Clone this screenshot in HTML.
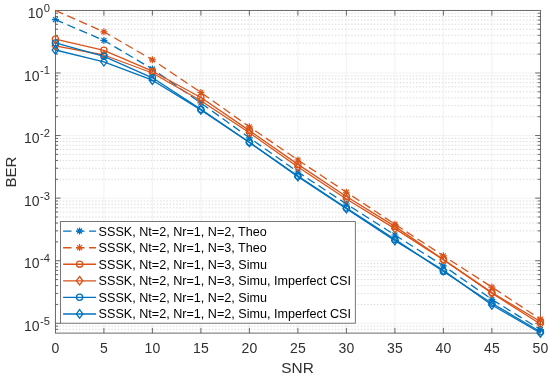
<!DOCTYPE html>
<html lang="en"><head><meta charset="utf-8"><title>BER vs SNR</title>
<style>html,body{margin:0;padding:0;background:#fff}body{width:550px;height:376px;overflow:hidden}</style>
</head><body>
<svg width="550" height="376" viewBox="0 0 550 376" style="display:block">
<rect width="550" height="376" fill="#fff"/>
<g stroke="#d0d0d0" stroke-width="0.8" stroke-dasharray="1.4 1.84" stroke-dashoffset="2.32" fill="none">
<path d="M55.4 54.14H540.4"/>
<path d="M55.4 43.12H540.4"/>
<path d="M55.4 35.30H540.4"/>
<path d="M55.4 29.24H540.4"/>
<path d="M55.4 24.28H540.4"/>
<path d="M55.4 20.09H540.4"/>
<path d="M55.4 16.46H540.4"/>
<path d="M55.4 13.26H540.4"/>
<path d="M55.4 116.72H540.4"/>
<path d="M55.4 105.70H540.4"/>
<path d="M55.4 97.88H540.4"/>
<path d="M55.4 91.82H540.4"/>
<path d="M55.4 86.86H540.4"/>
<path d="M55.4 82.67H540.4"/>
<path d="M55.4 79.04H540.4"/>
<path d="M55.4 75.84H540.4"/>
<path d="M55.4 179.30H540.4"/>
<path d="M55.4 168.28H540.4"/>
<path d="M55.4 160.46H540.4"/>
<path d="M55.4 154.40H540.4"/>
<path d="M55.4 149.44H540.4"/>
<path d="M55.4 145.25H540.4"/>
<path d="M55.4 141.62H540.4"/>
<path d="M55.4 138.42H540.4"/>
<path d="M55.4 241.88H540.4"/>
<path d="M55.4 230.86H540.4"/>
<path d="M55.4 223.04H540.4"/>
<path d="M55.4 216.98H540.4"/>
<path d="M55.4 212.02H540.4"/>
<path d="M55.4 207.83H540.4"/>
<path d="M55.4 204.20H540.4"/>
<path d="M55.4 201.00H540.4"/>
<path d="M55.4 304.46H540.4"/>
<path d="M55.4 293.44H540.4"/>
<path d="M55.4 285.62H540.4"/>
<path d="M55.4 279.56H540.4"/>
<path d="M55.4 274.60H540.4"/>
<path d="M55.4 270.41H540.4"/>
<path d="M55.4 266.78H540.4"/>
<path d="M55.4 263.58H540.4"/>
<path d="M55.4 329.36H540.4"/>
<path d="M55.4 326.16H540.4"/>
</g>
<g stroke="#efefef" stroke-width="0.8" fill="none">
<path d="M103.9 10.4V333.1"/>
<path d="M152.4 10.4V333.1"/>
<path d="M200.9 10.4V333.1"/>
<path d="M249.4 10.4V333.1"/>
<path d="M297.9 10.4V333.1"/>
<path d="M346.4 10.4V333.1"/>
<path d="M394.9 10.4V333.1"/>
<path d="M443.4 10.4V333.1"/>
<path d="M491.9 10.4V333.1"/>
<path d="M55.4 72.98H540.4"/>
<path d="M55.4 135.56H540.4"/>
<path d="M55.4 198.14H540.4"/>
<path d="M55.4 260.72H540.4"/>
<path d="M55.4 323.30H540.4"/>
</g>
<g stroke="#505050" stroke-width="0.85" fill="none">
<rect x="55.4" y="10.4" width="485.0" height="322.7"/>
<path d="M103.9 333.1v-5.2M103.9 10.4v5.2M152.4 333.1v-5.2M152.4 10.4v5.2M200.9 333.1v-5.2M200.9 10.4v5.2M249.4 333.1v-5.2M249.4 10.4v5.2M297.9 333.1v-5.2M297.9 10.4v5.2M346.4 333.1v-5.2M346.4 10.4v5.2M394.9 333.1v-5.2M394.9 10.4v5.2M443.4 333.1v-5.2M443.4 10.4v5.2M491.9 333.1v-5.2M491.9 10.4v5.2M55.4 54.14h2.7M540.4 54.14h-2.7M55.4 43.12h2.7M540.4 43.12h-2.7M55.4 35.30h2.7M540.4 35.30h-2.7M55.4 29.24h2.7M540.4 29.24h-2.7M55.4 24.28h2.7M540.4 24.28h-2.7M55.4 20.09h2.7M540.4 20.09h-2.7M55.4 16.46h2.7M540.4 16.46h-2.7M55.4 13.26h2.7M540.4 13.26h-2.7M55.4 72.98h5.2M540.4 72.98h-5.2M55.4 116.72h2.7M540.4 116.72h-2.7M55.4 105.70h2.7M540.4 105.70h-2.7M55.4 97.88h2.7M540.4 97.88h-2.7M55.4 91.82h2.7M540.4 91.82h-2.7M55.4 86.86h2.7M540.4 86.86h-2.7M55.4 82.67h2.7M540.4 82.67h-2.7M55.4 79.04h2.7M540.4 79.04h-2.7M55.4 75.84h2.7M540.4 75.84h-2.7M55.4 135.56h5.2M540.4 135.56h-5.2M55.4 179.30h2.7M540.4 179.30h-2.7M55.4 168.28h2.7M540.4 168.28h-2.7M55.4 160.46h2.7M540.4 160.46h-2.7M55.4 154.40h2.7M540.4 154.40h-2.7M55.4 149.44h2.7M540.4 149.44h-2.7M55.4 145.25h2.7M540.4 145.25h-2.7M55.4 141.62h2.7M540.4 141.62h-2.7M55.4 138.42h2.7M540.4 138.42h-2.7M55.4 198.14h5.2M540.4 198.14h-5.2M55.4 241.88h2.7M540.4 241.88h-2.7M55.4 230.86h2.7M540.4 230.86h-2.7M55.4 223.04h2.7M540.4 223.04h-2.7M55.4 216.98h2.7M540.4 216.98h-2.7M55.4 212.02h2.7M540.4 212.02h-2.7M55.4 207.83h2.7M540.4 207.83h-2.7M55.4 204.20h2.7M540.4 204.20h-2.7M55.4 201.00h2.7M540.4 201.00h-2.7M55.4 260.72h5.2M540.4 260.72h-5.2M55.4 304.46h2.7M540.4 304.46h-2.7M55.4 293.44h2.7M540.4 293.44h-2.7M55.4 285.62h2.7M540.4 285.62h-2.7M55.4 279.56h2.7M540.4 279.56h-2.7M55.4 274.60h2.7M540.4 274.60h-2.7M55.4 270.41h2.7M540.4 270.41h-2.7M55.4 266.78h2.7M540.4 266.78h-2.7M55.4 263.58h2.7M540.4 263.58h-2.7M55.4 323.30h5.2M540.4 323.30h-5.2M55.4 329.36h2.7M540.4 329.36h-2.7M55.4 326.16h2.7M540.4 326.16h-2.7"/>
</g>
<polyline points="55.40,19.60 103.90,40.40 152.40,69.00 200.90,103.00 249.40,137.80 297.90,172.00 346.40,204.00 394.90,235.00 443.40,265.80 491.90,299.40 540.40,329.60" stroke="#0072BD" stroke-width="1.3" fill="none" stroke-dasharray="8.4 4.6" stroke-dashoffset="0" stroke-linejoin="round"/>
<path d="M51.90 19.60H58.90M55.40 16.10V23.10M52.93 17.13L57.87 22.07M52.93 22.07L57.87 17.13" stroke="#0072BD" stroke-width="1.15" fill="none"/>
<path d="M100.40 40.40H107.40M103.90 36.90V43.90M101.43 37.93L106.37 42.87M101.43 42.87L106.37 37.93" stroke="#0072BD" stroke-width="1.15" fill="none"/>
<path d="M148.90 69.00H155.90M152.40 65.50V72.50M149.93 66.53L154.87 71.47M149.93 71.47L154.87 66.53" stroke="#0072BD" stroke-width="1.15" fill="none"/>
<path d="M197.40 103.00H204.40M200.90 99.50V106.50M198.43 100.53L203.37 105.47M198.43 105.47L203.37 100.53" stroke="#0072BD" stroke-width="1.15" fill="none"/>
<path d="M245.90 137.80H252.90M249.40 134.30V141.30M246.93 135.33L251.87 140.27M246.93 140.27L251.87 135.33" stroke="#0072BD" stroke-width="1.15" fill="none"/>
<path d="M294.40 172.00H301.40M297.90 168.50V175.50M295.43 169.53L300.37 174.47M295.43 174.47L300.37 169.53" stroke="#0072BD" stroke-width="1.15" fill="none"/>
<path d="M342.90 204.00H349.90M346.40 200.50V207.50M343.93 201.53L348.87 206.47M343.93 206.47L348.87 201.53" stroke="#0072BD" stroke-width="1.15" fill="none"/>
<path d="M391.40 235.00H398.40M394.90 231.50V238.50M392.43 232.53L397.37 237.47M392.43 237.47L397.37 232.53" stroke="#0072BD" stroke-width="1.15" fill="none"/>
<path d="M439.90 265.80H446.90M443.40 262.30V269.30M440.93 263.33L445.87 268.27M440.93 268.27L445.87 263.33" stroke="#0072BD" stroke-width="1.15" fill="none"/>
<path d="M488.40 299.40H495.40M491.90 295.90V302.90M489.43 296.93L494.37 301.87M489.43 301.87L494.37 296.93" stroke="#0072BD" stroke-width="1.15" fill="none"/>
<path d="M536.90 329.60H543.90M540.40 326.10V333.10M537.93 327.13L542.87 332.07M537.93 332.07L542.87 327.13" stroke="#0072BD" stroke-width="1.15" fill="none"/>
<polyline points="55.40,10.40 103.90,31.80 152.40,59.80 200.90,92.40 249.40,126.80 297.90,160.00 346.40,192.20 394.90,224.20 443.40,255.80 491.90,287.10 540.40,319.20" stroke="#D95319" stroke-width="1.3" fill="none" stroke-dasharray="8.4 4.6" stroke-dashoffset="0" stroke-linejoin="round"/>
<path d="M100.40 31.80H107.40M103.90 28.30V35.30M101.43 29.33L106.37 34.27M101.43 34.27L106.37 29.33" stroke="#D95319" stroke-width="1.15" fill="none"/>
<path d="M148.90 59.80H155.90M152.40 56.30V63.30M149.93 57.33L154.87 62.27M149.93 62.27L154.87 57.33" stroke="#D95319" stroke-width="1.15" fill="none"/>
<path d="M197.40 92.40H204.40M200.90 88.90V95.90M198.43 89.93L203.37 94.87M198.43 94.87L203.37 89.93" stroke="#D95319" stroke-width="1.15" fill="none"/>
<path d="M245.90 126.80H252.90M249.40 123.30V130.30M246.93 124.33L251.87 129.27M246.93 129.27L251.87 124.33" stroke="#D95319" stroke-width="1.15" fill="none"/>
<path d="M294.40 160.00H301.40M297.90 156.50V163.50M295.43 157.53L300.37 162.47M295.43 162.47L300.37 157.53" stroke="#D95319" stroke-width="1.15" fill="none"/>
<path d="M342.90 192.20H349.90M346.40 188.70V195.70M343.93 189.73L348.87 194.67M343.93 194.67L348.87 189.73" stroke="#D95319" stroke-width="1.15" fill="none"/>
<path d="M391.40 224.20H398.40M394.90 220.70V227.70M392.43 221.73L397.37 226.67M392.43 226.67L397.37 221.73" stroke="#D95319" stroke-width="1.15" fill="none"/>
<path d="M439.90 255.80H446.90M443.40 252.30V259.30M440.93 253.33L445.87 258.27M440.93 258.27L445.87 253.33" stroke="#D95319" stroke-width="1.15" fill="none"/>
<path d="M488.40 287.10H495.40M491.90 283.60V290.60M489.43 284.63L494.37 289.57M489.43 289.57L494.37 284.63" stroke="#D95319" stroke-width="1.15" fill="none"/>
<path d="M536.90 319.20H543.90M540.40 315.70V322.70M537.93 316.73L542.87 321.67M537.93 321.67L542.87 316.73" stroke="#D95319" stroke-width="1.15" fill="none"/>
<polyline points="55.40,39.20 103.90,50.30 152.40,71.20 200.90,97.50 249.40,130.60 297.90,164.40 346.40,196.50 394.90,226.40 443.40,259.60 491.90,292.60 540.40,321.50" stroke="#D95319" stroke-width="1.3" fill="none" stroke-linejoin="round"/>
<circle cx="55.40" cy="39.20" r="3.1" stroke="#D95319" stroke-width="1.3" fill="none"/>
<circle cx="103.90" cy="50.30" r="3.1" stroke="#D95319" stroke-width="1.3" fill="none"/>
<circle cx="152.40" cy="71.20" r="3.1" stroke="#D95319" stroke-width="1.3" fill="none"/>
<circle cx="200.90" cy="97.50" r="3.1" stroke="#D95319" stroke-width="1.3" fill="none"/>
<circle cx="249.40" cy="130.60" r="3.1" stroke="#D95319" stroke-width="1.3" fill="none"/>
<circle cx="297.90" cy="164.40" r="3.1" stroke="#D95319" stroke-width="1.3" fill="none"/>
<circle cx="346.40" cy="196.50" r="3.1" stroke="#D95319" stroke-width="1.3" fill="none"/>
<circle cx="394.90" cy="226.40" r="3.1" stroke="#D95319" stroke-width="1.3" fill="none"/>
<circle cx="443.40" cy="259.60" r="3.1" stroke="#D95319" stroke-width="1.3" fill="none"/>
<circle cx="491.90" cy="292.60" r="3.1" stroke="#D95319" stroke-width="1.3" fill="none"/>
<circle cx="540.40" cy="321.50" r="3.1" stroke="#D95319" stroke-width="1.3" fill="none"/>
<polyline points="55.40,45.90 103.90,55.00 152.40,73.00 200.90,100.80 249.40,132.80 297.90,167.00 346.40,199.00 394.90,228.60 443.40,259.80 491.90,293.20 540.40,324.00" stroke="#D95319" stroke-width="1.3" fill="none" stroke-linejoin="round"/>
<path d="M55.40 41.65L58.65 45.90L55.40 50.15L52.15 45.90Z" stroke="#D95319" stroke-width="1.3" fill="none" stroke-linejoin="miter"/>
<path d="M103.90 50.75L107.15 55.00L103.90 59.25L100.65 55.00Z" stroke="#D95319" stroke-width="1.3" fill="none" stroke-linejoin="miter"/>
<path d="M152.40 68.75L155.65 73.00L152.40 77.25L149.15 73.00Z" stroke="#D95319" stroke-width="1.3" fill="none" stroke-linejoin="miter"/>
<path d="M200.90 96.55L204.15 100.80L200.90 105.05L197.65 100.80Z" stroke="#D95319" stroke-width="1.3" fill="none" stroke-linejoin="miter"/>
<path d="M249.40 128.55L252.65 132.80L249.40 137.05L246.15 132.80Z" stroke="#D95319" stroke-width="1.3" fill="none" stroke-linejoin="miter"/>
<path d="M297.90 162.75L301.15 167.00L297.90 171.25L294.65 167.00Z" stroke="#D95319" stroke-width="1.3" fill="none" stroke-linejoin="miter"/>
<path d="M346.40 194.75L349.65 199.00L346.40 203.25L343.15 199.00Z" stroke="#D95319" stroke-width="1.3" fill="none" stroke-linejoin="miter"/>
<path d="M394.90 224.35L398.15 228.60L394.90 232.85L391.65 228.60Z" stroke="#D95319" stroke-width="1.3" fill="none" stroke-linejoin="miter"/>
<path d="M443.40 255.55L446.65 259.80L443.40 264.05L440.15 259.80Z" stroke="#D95319" stroke-width="1.3" fill="none" stroke-linejoin="miter"/>
<path d="M491.90 288.95L495.15 293.20L491.90 297.45L488.65 293.20Z" stroke="#D95319" stroke-width="1.3" fill="none" stroke-linejoin="miter"/>
<path d="M540.40 319.75L543.65 324.00L540.40 328.25L537.15 324.00Z" stroke="#D95319" stroke-width="1.3" fill="none" stroke-linejoin="miter"/>
<polyline points="55.40,42.90 103.90,56.30 152.40,77.80 200.90,109.40 249.40,142.30 297.90,176.00 346.40,208.00 394.90,239.40 443.40,271.50 491.90,303.20 540.40,331.80" stroke="#0072BD" stroke-width="1.3" fill="none" stroke-linejoin="round"/>
<circle cx="55.40" cy="42.90" r="3.1" stroke="#0072BD" stroke-width="1.3" fill="none"/>
<circle cx="103.90" cy="56.30" r="3.1" stroke="#0072BD" stroke-width="1.3" fill="none"/>
<circle cx="152.40" cy="77.80" r="3.1" stroke="#0072BD" stroke-width="1.3" fill="none"/>
<circle cx="200.90" cy="109.40" r="3.1" stroke="#0072BD" stroke-width="1.3" fill="none"/>
<circle cx="249.40" cy="142.30" r="3.1" stroke="#0072BD" stroke-width="1.3" fill="none"/>
<circle cx="297.90" cy="176.00" r="3.1" stroke="#0072BD" stroke-width="1.3" fill="none"/>
<circle cx="346.40" cy="208.00" r="3.1" stroke="#0072BD" stroke-width="1.3" fill="none"/>
<circle cx="394.90" cy="239.40" r="3.1" stroke="#0072BD" stroke-width="1.3" fill="none"/>
<circle cx="443.40" cy="271.50" r="3.1" stroke="#0072BD" stroke-width="1.3" fill="none"/>
<circle cx="491.90" cy="303.20" r="3.1" stroke="#0072BD" stroke-width="1.3" fill="none"/>
<circle cx="540.40" cy="331.80" r="3.1" stroke="#0072BD" stroke-width="1.3" fill="none"/>
<polyline points="55.40,50.00 103.90,61.80 152.40,80.20 200.90,109.90 249.40,142.50 297.90,176.60 346.40,208.60 394.90,240.60 443.40,270.40 491.90,305.00 540.40,333.00" stroke="#0072BD" stroke-width="1.3" fill="none" stroke-linejoin="round"/>
<path d="M55.40 45.75L58.65 50.00L55.40 54.25L52.15 50.00Z" stroke="#0072BD" stroke-width="1.3" fill="none" stroke-linejoin="miter"/>
<path d="M103.90 57.55L107.15 61.80L103.90 66.05L100.65 61.80Z" stroke="#0072BD" stroke-width="1.3" fill="none" stroke-linejoin="miter"/>
<path d="M152.40 75.95L155.65 80.20L152.40 84.45L149.15 80.20Z" stroke="#0072BD" stroke-width="1.3" fill="none" stroke-linejoin="miter"/>
<path d="M200.90 105.65L204.15 109.90L200.90 114.15L197.65 109.90Z" stroke="#0072BD" stroke-width="1.3" fill="none" stroke-linejoin="miter"/>
<path d="M249.40 138.25L252.65 142.50L249.40 146.75L246.15 142.50Z" stroke="#0072BD" stroke-width="1.3" fill="none" stroke-linejoin="miter"/>
<path d="M297.90 172.35L301.15 176.60L297.90 180.85L294.65 176.60Z" stroke="#0072BD" stroke-width="1.3" fill="none" stroke-linejoin="miter"/>
<path d="M346.40 204.35L349.65 208.60L346.40 212.85L343.15 208.60Z" stroke="#0072BD" stroke-width="1.3" fill="none" stroke-linejoin="miter"/>
<path d="M394.90 236.35L398.15 240.60L394.90 244.85L391.65 240.60Z" stroke="#0072BD" stroke-width="1.3" fill="none" stroke-linejoin="miter"/>
<path d="M443.40 266.15L446.65 270.40L443.40 274.65L440.15 270.40Z" stroke="#0072BD" stroke-width="1.3" fill="none" stroke-linejoin="miter"/>
<path d="M491.90 300.75L495.15 305.00L491.90 309.25L488.65 305.00Z" stroke="#0072BD" stroke-width="1.3" fill="none" stroke-linejoin="miter"/>
<path d="M540.40 328.75L543.65 333.00L540.40 337.25L537.15 333.00Z" stroke="#0072BD" stroke-width="1.3" fill="none" stroke-linejoin="miter"/>
<g font-family="'Liberation Sans', Arial, sans-serif" fill="#303030">
<text x="55.40" y="352.9" font-size="14" text-anchor="middle">0</text>
<text x="103.90" y="352.9" font-size="14" text-anchor="middle">5</text>
<text x="152.40" y="352.9" font-size="14" text-anchor="middle">10</text>
<text x="200.90" y="352.9" font-size="14" text-anchor="middle">15</text>
<text x="249.40" y="352.9" font-size="14" text-anchor="middle">20</text>
<text x="297.90" y="352.9" font-size="14" text-anchor="middle">25</text>
<text x="346.40" y="352.9" font-size="14" text-anchor="middle">30</text>
<text x="394.90" y="352.9" font-size="14" text-anchor="middle">35</text>
<text x="443.40" y="352.9" font-size="14" text-anchor="middle">40</text>
<text x="491.90" y="352.9" font-size="14" text-anchor="middle">45</text>
<text x="540.40" y="352.9" font-size="14" text-anchor="middle">50</text>
<text x="43.3" y="18.0" font-size="14" text-anchor="end">10</text>
<text x="49.9" y="11.8" font-size="11.2" text-anchor="end">0</text>
<text x="39.5" y="80.6" font-size="14" text-anchor="end">10</text>
<text x="49.9" y="74.4" font-size="11.2" text-anchor="end">-1</text>
<text x="39.5" y="143.2" font-size="14" text-anchor="end">10</text>
<text x="49.9" y="137.0" font-size="11.2" text-anchor="end">-2</text>
<text x="39.5" y="205.7" font-size="14" text-anchor="end">10</text>
<text x="49.9" y="199.5" font-size="11.2" text-anchor="end">-3</text>
<text x="39.5" y="268.3" font-size="14" text-anchor="end">10</text>
<text x="49.9" y="262.1" font-size="11.2" text-anchor="end">-4</text>
<text x="39.5" y="330.9" font-size="14" text-anchor="end">10</text>
<text x="49.9" y="324.7" font-size="11.2" text-anchor="end">-5</text>
<text x="297.5" y="373.3" font-size="15.4" text-anchor="middle">SNR</text>
<text transform="translate(16.0 172.0) rotate(-90)" font-size="15.1" text-anchor="middle">BER</text>
</g>
<rect x="60.4" y="221.6" width="294.9" height="101.6" fill="#fff" stroke="#555" stroke-width="0.8"/>
<path d="M63.1 231.10H96.1" stroke="#0072BD" stroke-width="1.4" stroke-dasharray="8.4 4.6" fill="none"/>
<path d="M76.10 231.00H83.10M79.60 227.50V234.50M77.13 228.53L82.07 233.47M77.13 233.47L82.07 228.53" stroke="#0072BD" stroke-width="1.15" fill="none"/>
<text x="98.6" y="235.50" font-size="12.6" font-family="'Liberation Sans', Arial, sans-serif" fill="#000">SSSK, Nt=2, Nr=1, N=2, Theo</text>
<path d="M63.1 247.68H96.1" stroke="#D95319" stroke-width="1.4" stroke-dasharray="8.4 4.6" fill="none"/>
<path d="M76.10 247.58H83.10M79.60 244.08V251.08M77.13 245.11L82.07 250.05M77.13 250.05L82.07 245.11" stroke="#D95319" stroke-width="1.15" fill="none"/>
<text x="98.6" y="252.08" font-size="12.6" font-family="'Liberation Sans', Arial, sans-serif" fill="#000">SSSK, Nt=2, Nr=1, N=3, Theo</text>
<path d="M63.1 264.26H96.1" stroke="#D95319" stroke-width="1.4" fill="none"/>
<circle cx="79.60" cy="264.16" r="3.1" stroke="#D95319" stroke-width="1.3" fill="none"/>
<text x="98.6" y="268.66" font-size="12.6" font-family="'Liberation Sans', Arial, sans-serif" fill="#000">SSSK, Nt=2, Nr=1, N=3, Simu</text>
<path d="M63.1 280.84H96.1" stroke="#D95319" stroke-width="1.4" fill="none"/>
<path d="M79.60 276.49L82.85 280.74L79.60 284.99L76.35 280.74Z" stroke="#D95319" stroke-width="1.3" fill="none" stroke-linejoin="miter"/>
<text x="98.6" y="285.24" font-size="12.6" font-family="'Liberation Sans', Arial, sans-serif" fill="#000">SSSK, Nt=2, Nr=1, N=3, Simu, Imperfect CSI</text>
<path d="M63.1 297.42H96.1" stroke="#0072BD" stroke-width="1.4" fill="none"/>
<circle cx="79.60" cy="297.32" r="3.1" stroke="#0072BD" stroke-width="1.3" fill="none"/>
<text x="98.6" y="301.82" font-size="12.6" font-family="'Liberation Sans', Arial, sans-serif" fill="#000">SSSK, Nt=2, Nr=1, N=2, Simu</text>
<path d="M63.1 314.00H96.1" stroke="#0072BD" stroke-width="1.4" fill="none"/>
<path d="M79.60 309.65L82.85 313.90L79.60 318.15L76.35 313.90Z" stroke="#0072BD" stroke-width="1.3" fill="none" stroke-linejoin="miter"/>
<text x="98.6" y="318.40" font-size="12.6" font-family="'Liberation Sans', Arial, sans-serif" fill="#000">SSSK, Nt=2, Nr=1, N=2, Simu, Imperfect CSI</text>
</svg>
</body></html>
